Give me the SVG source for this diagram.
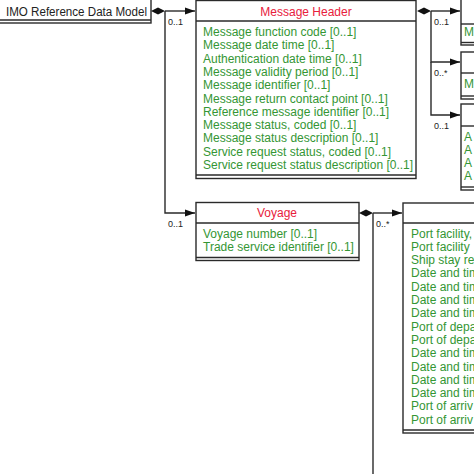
<svg xmlns="http://www.w3.org/2000/svg" width="474" height="474" viewBox="0 0 474 474">
<style>
.box{fill:#fff;stroke:#2a2a2a;stroke-width:1.4}
.ln{stroke:#2a2a2a;stroke-width:1.4;fill:none}
.hd{font-family:"Liberation Sans",Arial,sans-serif;font-size:12px;fill:#e8203c;text-anchor:middle}
.at{font-family:"Liberation Sans",Arial,sans-serif;font-size:12px;fill:#349634}
.nm{font-family:"Liberation Sans",Arial,sans-serif;font-size:12px;fill:#222}
.lb{font-family:"Liberation Sans",Arial,sans-serif;font-size:9px;fill:#222}
.dm{fill:#111}
</style>
<defs>
<marker id="ah" viewBox="0 0 10 8" refX="10" refY="4" markerWidth="10" markerHeight="8" markerUnits="userSpaceOnUse" orient="auto">
<path d="M0,0.5 L10,4 L0,7.5 Z" fill="#111"/>
</marker>
</defs>
<rect width="474" height="474" fill="#fff"/>

<g id="imo">
<rect class="box" x="-5" y="-2" width="156" height="25"/>
<line class="ln" x1="-5" y1="20" x2="151" y2="20"/>
<text class="nm" x="6" y="16" textLength="141" lengthAdjust="spacingAndGlyphs">IMO Reference Data Model</text>
</g>

<g id="message-header">
<rect class="box" x="196" y="0.5" width="220" height="178"/>
<line class="ln" x1="196" y1="21" x2="416" y2="21"/>
<line class="ln" x1="196" y1="175" x2="416" y2="175"/>
<text class="hd" x="306" y="16">Message Header</text>
<text class="at" x="203" y="36">Message function code [0..1]</text>
<text class="at" x="203" y="49.3">Message date time [0..1]</text>
<text class="at" x="203" y="62.6">Authentication date time [0..1]</text>
<text class="at" x="203" y="75.9">Message validity period [0..1]</text>
<text class="at" x="203" y="89.2">Message identifier [0..1]</text>
<text class="at" x="203" y="102.5">Message return contact point [0..1]</text>
<text class="at" x="203" y="115.8">Reference message identifier [0..1]</text>
<text class="at" x="203" y="129.1">Message status, coded [0..1]</text>
<text class="at" x="203" y="142.4">Message status description [0..1]</text>
<text class="at" x="203" y="155.7">Service request status, coded [0..1]</text>
<text class="at" x="203" y="169">Service request status description [0..1]</text>
</g>

<g id="voyage">
<rect class="box" x="196" y="202.5" width="163" height="58"/>
<line class="ln" x1="196" y1="223" x2="359" y2="223"/>
<line class="ln" x1="196" y1="257.5" x2="359" y2="257.5"/>
<text class="hd" x="277" y="216.5">Voyage</text>
<text class="at" x="203" y="237.5">Voyage number [0..1]</text>
<text class="at" x="203" y="251">Trade service identifier [0..1]</text>
</g>

<g id="box-r1">
<rect class="box" x="461" y="-2" width="20" height="47"/>
<line class="ln" x1="461" y1="24" x2="481" y2="24"/>
<line class="ln" x1="461" y1="42.5" x2="481" y2="42.5"/>
<text class="at" x="464" y="36">M</text>
</g>

<g id="box-r2">
<rect class="box" x="461" y="52" width="20" height="47"/>
<line class="ln" x1="461" y1="73" x2="481" y2="73"/>
<line class="ln" x1="461" y1="96" x2="481" y2="96"/>
<text class="at" x="464" y="88">M</text>
</g>

<g id="box-r3">
<rect class="box" x="461" y="104" width="20" height="86"/>
<line class="ln" x1="461" y1="126" x2="481" y2="126"/>
<line class="ln" x1="461" y1="187" x2="481" y2="187"/>
<text class="at" x="464" y="140.5">A</text>
<text class="at" x="464" y="153.8">A</text>
<text class="at" x="464" y="167.1">A</text>
<text class="at" x="464" y="180.4">A</text>
</g>

<g id="box-port">
<rect class="box" x="403" y="203" width="80" height="230"/>
<line class="ln" x1="403" y1="223" x2="483" y2="223"/>
<line class="ln" x1="403" y1="430" x2="483" y2="430"/>
<text class="at" x="411" y="237.5">Port facility,</text>
<text class="at" x="411" y="250.8">Port facility</text>
<text class="at" x="411" y="264.1">Ship stay ref</text>
<text class="at" x="411" y="277.4">Date and tim</text>
<text class="at" x="411" y="290.7">Date and tim</text>
<text class="at" x="411" y="304">Date and tim</text>
<text class="at" x="411" y="317.3">Date and tim</text>
<text class="at" x="411" y="330.6">Port of depa</text>
<text class="at" x="411" y="343.9">Port of depa</text>
<text class="at" x="411" y="357.2">Date and tim</text>
<text class="at" x="411" y="370.5">Date and tim</text>
<text class="at" x="411" y="383.8">Date and tim</text>
<text class="at" x="411" y="397.1">Date and tim</text>
<text class="at" x="411" y="410.4">Port of arriv</text>
<text class="at" x="411" y="423.7">Port of arriv</text>
</g>

<g id="connectors">
<path class="dm" d="M151,11 L158,7.5 L165,11 L158,14.5 Z"/>
<path class="ln" d="M165,11 H195" marker-end="url(#ah)"/>
<path class="ln" d="M165,11 V213 H195" marker-end="url(#ah)"/>
<text class="lb" x="168" y="25">0..1</text>
<text class="lb" x="168" y="227">0..1</text>

<path class="dm" d="M417,11 L424,7.5 L431,11 L424,14.5 Z"/>
<path class="ln" d="M431,11 H460" marker-end="url(#ah)"/>
<path class="ln" d="M431,11 V62 H460" marker-end="url(#ah)"/>
<path class="ln" d="M431,62 V115 H460" marker-end="url(#ah)"/>
<text class="lb" x="434" y="25">0..1</text>
<text class="lb" x="434" y="76">0..*</text>
<text class="lb" x="434" y="129">0..1</text>

<path class="dm" d="M359,213 L366,209.5 L373,213 L366,216.5 Z"/>
<path class="ln" d="M373,213 H402" marker-end="url(#ah)"/>
<path class="ln" d="M373,213 V474"/>
<text class="lb" x="376" y="227">0..*</text>
</g>
</svg>
